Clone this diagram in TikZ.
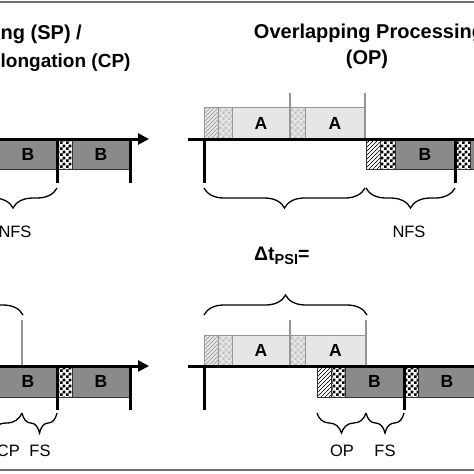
\documentclass[tikz,border=0pt]{standalone}
\usepackage{fontspec}
\setmainfont{Liberation Sans}
\usetikzlibrary{patterns,decorations.pathreplacing,arrows.meta}
\pgfdeclarepatternformonly{chk}{\pgfpointorigin}{\pgfqpoint{6pt}{6pt}}{\pgfqpoint{6pt}{6pt}}{%
 \pgfpathrectangle{\pgfpointorigin}{\pgfqpoint{3pt}{3pt}}%
 \pgfpathrectangle{\pgfqpoint{3pt}{3pt}}{\pgfqpoint{3pt}{3pt}}%
 \pgfusepath{fill}}
\pgfdeclarepatternformonly{hatch}{\pgfqpoint{-1pt}{-1pt}}{\pgfqpoint{5pt}{5pt}}{\pgfqpoint{4pt}{4pt}}{%
 \pgfsetlinewidth{0.7pt}\pgfpathmoveto{\pgfqpoint{-0.5pt}{-0.5pt}}\pgfpathlineto{\pgfqpoint{4.5pt}{4.5pt}}\pgfusepath{stroke}}
\definecolor{lightA}{RGB}{230,230,230}
\definecolor{darkB}{RGB}{138,138,138}
\definecolor{frameC}{RGB}{110,110,110}
\definecolor{gline}{RGB}{150,150,150}
\begin{document}
\begin{tikzpicture}[x=1pt,y=-1pt,
  box/.style={anchor=north west, inner sep=0pt, outer sep=0pt},
  boxA/.style={box, draw=gline, line width=0.8pt, fill=lightA, minimum height=31pt, font=\fontsize{17.5}{17.5}\selectfont\bfseries},
  boxB/.style={box, draw=black!80, line width=0.8pt, fill=darkB, minimum height=30pt, font=\fontsize{17.5}{17.5}\selectfont\bfseries},
  hatchL/.style={boxA, preaction={fill=lightA}, pattern=hatch, pattern color=gray!80},
  checkL/.style={boxA, preaction={fill=lightA}, pattern=chk, pattern color=gray!45},
  hatchD/.style={boxB, preaction={fill=white}, pattern=hatch, pattern color=black},
  checkD/.style={boxB, preaction={fill=white}, pattern=chk, pattern color=black},
  axis/.style={line width=3pt, black},
  tick/.style={line width=3pt, black},
  gmark/.style={line width=2.8pt, gline},
  brc/.style={decorate, line width=1.3pt, black, decoration={brace, amplitude=20pt}},
  brcd/.style={decorate, line width=1.3pt, black, decoration={brace, amplitude=20pt, mirror}},
  lbl/.style={font=\fontsize{16.5}{16.5}\selectfont, inner sep=0pt},
  ttl/.style={font=\fontsize{20}{20}\selectfont\bfseries, inner sep=0pt},
  frame/.style={line width=2.4pt, frameC}
]
\useasboundingbox (0,0) rectangle (474,474);
\clip (0,0) rectangle (474,474);
\fill[white] (0,0) rectangle (474,474);
\draw[frame] (-5,2) -- (480,2);
\draw[frame] (-5,470) -- (480,470);

% titles
\node[ttl, anchor=base east] (t1) at (82,39) {ng (SP) /};
\node[ttl, anchor=base west, font=\fontsize{19}{19}\selectfont\bfseries] (t2) at (0.5,67) {longation (CP)};
\node[ttl, anchor=base] (t3) at (369,38) {Overlapping Processing};
\node[ttl, anchor=base] (t4) at (367,64) {(OP)};

% ===== Row 1 left =====
\node[boxB, minimum width=58pt] (l1b1) at (-1,139) {B};
\node[checkD, minimum width=15pt] (l1c1) at (57,139) {};
\node[boxB, minimum width=58pt] (l1b2) at (72,139) {B};
\coordinate (l1s) at (-5,139);
\coordinate (l1e) at (149,139);
\draw[axis, -{Triangle[length=11pt,width=11pt]}] (l1s) -- (l1e);
\draw[tick] (57,138) -- (57,183);
\draw[tick] (130,138) -- (130,183);
\draw[brcd] (-31,188) -- (57,188);
\node[lbl, anchor=base] (nfs1) at (15,237) {NFS};

% ===== Row 1 right =====
\node[hatchL, minimum width=14pt, minimum height=32pt] (r1h) at (204,107) {};
\node[checkL, minimum width=14pt, minimum height=32pt] (r1c1) at (218,107) {};
\node[boxA, minimum width=58pt, minimum height=32pt] (r1a1) at (232,107) {A};
\node[checkL, minimum width=15pt, minimum height=32pt] (r1c2) at (290,107) {};
\node[boxA, minimum width=60pt, minimum height=32pt] (r1a2) at (305,107) {A};
\node[hatchD, minimum width=14pt] (r1hd) at (366,139) {};
\node[checkD, minimum width=15pt] (r1cd) at (380,139) {};
\node[boxB, minimum width=60pt] (r1b1) at (395,139) {B};
\node[checkD, minimum width=15pt] (r1cd2) at (455,139) {};
\node[boxB, minimum width=30pt] (r1b2) at (470,139) {};
\draw[axis] (188,139) -- (480,139);
\draw[gmark] (290,93) -- (290,138);
\draw[gmark] (365,93) -- (365,138);
\draw[tick] (204,138) -- (204,183);
\draw[tick] (455,138) -- (455,183);
\draw[brcd] (204,188) -- (365,188);
\draw[brcd] (366,188) -- (455,188);
\node[lbl, anchor=base] (nfs2) at (409,237) {NFS};

% delta t
\node[anchor=base west, inner sep=0pt, font=\fontsize{19.5}{19.5}\selectfont\bfseries] (dt) at (254,260)
  {Δt\raisebox{-4pt}{\fontsize{14.5}{14.5}\selectfont PSI}=};

% ===== Row 2 left =====
\node[boxB, minimum width=58pt, minimum height=31pt] (l2b1) at (-1,366) {B};
\node[checkD, minimum width=15pt, minimum height=31pt] (l2c1) at (57,366) {};
\node[boxB, minimum width=58pt, minimum height=31pt] (l2b2) at (72,366) {B};
\draw[gmark] (22,320) -- (22,365);
\coordinate (l2s) at (-5,366);
\coordinate (l2e) at (149,366);
\draw[axis, -{Triangle[length=11pt,width=11pt]}] (l2s) -- (l2e);
\draw[tick] (57,365) -- (57,410);
\draw[tick] (130,365) -- (130,410);
\draw[brc] (-139,315) -- (23,315);
\draw[brcd] (-40,413) -- (22,413);
\draw[brcd] (22,413) -- (57,413);
\node[lbl, anchor=base east] (cp) at (20,456) {CP};
\node[lbl, anchor=base] (fs1) at (40,456) {FS};

% ===== Row 2 right =====
\node[hatchL, minimum width=14pt] (r2h) at (204,335) {};
\node[checkL, minimum width=14pt] (r2c1) at (218,335) {};
\node[boxA, minimum width=58pt] (r2a1) at (232,335) {A};
\node[checkL, minimum width=15pt] (r2c2) at (290,335) {};
\node[boxA, minimum width=61pt] (r2a2) at (305,335) {A};
\node[hatchD, minimum width=14pt, minimum height=31pt] (r2hd) at (317,366) {};
\node[checkD, minimum width=14pt, minimum height=31pt] (r2cd) at (331,366) {};
\node[boxB, minimum width=59pt, minimum height=31pt] (r2b1) at (345,366) {B};
\node[checkD, minimum width=14pt, minimum height=31pt] (r2cd2) at (404,366) {};
\node[boxB, minimum width=58pt, minimum height=31pt] (r2b2) at (418,366) {B};
\draw[axis] (188,366) -- (480,366);
\draw[gmark] (290,320) -- (290,365);
\draw[gmark] (366,320) -- (366,365);
\draw[tick] (204,365) -- (204,410);
\draw[tick] (404,365) -- (404,410);
\draw[brc] (204,315) -- (367,315);
\draw[brcd] (317,413) -- (366,413);
\draw[brcd] (366,413) -- (404,413);
\node[lbl, anchor=base] (op) at (342,456) {OP};
\node[lbl, anchor=base] (fs2) at (385,456) {FS};
\end{tikzpicture}
\end{document}
